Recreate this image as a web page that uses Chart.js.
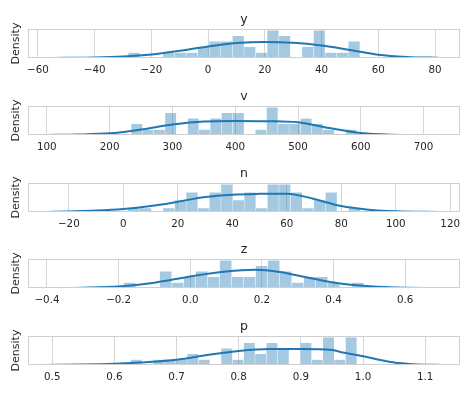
<!DOCTYPE html>
<html>
<head>
<meta charset="utf-8">
<script src="https://cdn.jsdelivr.net/npm/chart.js@4.4.1/dist/chart.umd.min.js"></script>
<style>
  html, body { margin: 0; padding: 0; background: #fff; }
  #wrap { position: relative; width: 474px; height: 395px; }
  .panel { position: absolute; left: 0; width: 474px; height: 77px; }
</style>
</head>
<body>
<div id="wrap">
  <div class="panel" style="top:0px"><canvas id="c_y" width="474" height="77"></canvas></div>
  <div class="panel" style="top:77px"><canvas id="c_v" width="474" height="77"></canvas></div>
  <div class="panel" style="top:154px"><canvas id="c_n" width="474" height="77"></canvas></div>
  <div class="panel" style="top:230px"><canvas id="c_z" width="474" height="77"></canvas></div>
  <div class="panel" style="top:307px"><canvas id="c_p" width="474" height="77"></canvas></div>
</div>
<script>
/* ================================
   Data
================================ */
// y
const yBinStart = -28.2, yBinWidth = 4.085;
const yCounts = [1, 0, 0, 1, 1, 1, 2, 3, 3, 4, 2, 1, 5, 4, 0, 2, 5, 1, 1, 3];
const yKdeX = [-57, -50, -40, -30, -20, -10, 0, 10, 20, 30, 40, 50, 60, 70, 82];
const yKdeY = [0.02, 0.03, 0.08, 0.25, 0.62, 1.3, 2.1, 2.7, 2.9, 2.75, 2.25, 1.45, 0.6, 0.2, 0.02];
const yTicks = [-60, -40, -20, 0, 20, 40, 60, 80];

// v
const vBinStart = 234.3, vBinWidth = 17.97;
const vCounts = [2, 1, 1, 4, 0, 3, 1, 3, 4, 4, 0, 1, 5, 2, 2, 3, 2, 1, 0, 1];
const vKdeX = [100, 150, 200, 250, 300, 350, 400, 450, 500, 550, 600, 650, 700, 726];
const vKdeY = [0.01, 0.08, 0.3, 1.0, 1.9, 2.45, 2.55, 2.5, 2.3, 1.25, 0.35, 0.06, 0.01, 0.0];
const vTicks = [100, 200, 300, 400, 500, 600, 700];

// n
const nBinStart = 1.76, nBinWidth = 4.26;
const nCounts = [1, 1, 0, 1, 3, 5, 1, 5, 7, 3, 5, 1, 7, 7, 5, 1, 3, 5, 0, 1];
const nKdeX = [-28, -20, -10, 0, 10, 20, 30, 40, 50, 60, 70, 80, 90, 100, 116];
const nKdeY = [0.03, 0.15, 0.35, 0.75, 1.5, 2.6, 3.8, 4.4, 4.6, 4.65, 3.3, 1.5, 0.6, 0.17, 0.02];
const nTicks = [-20, 0, 20, 40, 60, 80, 100, 120];

// z
const zBinStart = -0.186, zBinWidth = 0.0335;
const zCounts = [1, 0, 0, 3, 1, 2, 3, 2, 5, 2, 2, 4, 5, 3, 1, 2, 2, 1, 0, 1];
const zKdeX = [-0.4, -0.3, -0.2, -0.1, 0, 0.1, 0.18, 0.25, 0.3, 0.4, 0.5, 0.6, 0.7];
const zKdeY = [0.01, 0.06, 0.25, 0.95, 2.1, 3.0, 3.3, 2.9, 2.25, 1.0, 0.3, 0.05, 0.01];
const zTicks = [-0.4, -0.2, 0.0, 0.2, 0.4, 0.6];

// p
const pBinStart = 0.626, pBinWidth = 0.0182;
const pCounts = [1, 0, 1, 1, 1, 2, 1, 0, 3, 1, 4, 2, 4, 3, 0, 4, 1, 5, 1, 5];
const pKdeX = [0.49, 0.55, 0.6, 0.65, 0.7, 0.75, 0.8, 0.85, 0.9, 0.95, 0.97, 1.0, 1.03, 1.05, 1.08, 1.1, 1.125];
const pKdeY = [0.01, 0.08, 0.22, 0.5, 0.95, 1.8, 2.55, 2.9, 2.9, 2.7, 2.2, 1.6, 0.85, 0.45, 0.15, 0.06, 0.01];
const pTicks = [0.5, 0.6, 0.7, 0.8, 0.9, 1.0, 1.1];

/* ================================
   Style
================================ */
const FONT = "'DejaVu Sans', sans-serif";
const TEXT = "#262626";
const LINE = "#1f77b4";
const BAR = "rgba(31,119,180,0.4)";
const EDGE = "rgba(255,255,255,0.6)";
const GRID = "#d6d6d6";
const SPINE = "#cfcfcf";

// axes frame on all four sides
const framePlugin = {
  id: "frame",
  afterDatasetsDraw(chart) {
    const { ctx, chartArea: a } = chart;
    ctx.save();
    ctx.strokeStyle = SPINE;
    ctx.lineWidth = 1;
    ctx.strokeRect(Math.round(a.left) + 0.5, Math.round(a.top) + 0.5,
      Math.round(a.right - a.left) - 1, Math.round(a.bottom - a.top) - 1);
    ctx.restore();
  }
};

function fmtTick(v, decimals) {
  return v.toFixed(decimals).replace("-", "\u2212");
}

/* ================================
   Panel
================================ */
function makePanel(id, name, binStart, binWidth, counts, kdeX, kdeY, ticks, xMin, xMax, decimals) {
  const bars = counts.map((c, i) => ({ x: binStart + binWidth * (i + 0.5), y: c }));
  const kde = kdeX.map((x, i) => ({ x, y: kdeY[i] }));
  const yTop = Math.max(...counts) * 1.05;

  new Chart(document.getElementById(id), {
    type: "bar",
    data: {
      datasets: [
        {
          type: "line",
          data: kde,
          borderColor: LINE,
          borderWidth: 2,
          pointRadius: 0,
          cubicInterpolationMode: "monotone",
          fill: false,
          order: 0
        },
        {
          type: "bar",
          data: bars,
          backgroundColor: BAR,
          borderColor: EDGE,
          borderWidth: { left: 0.5, right: 0.5, top: 0.5, bottom: 0 },
          borderSkipped: "start",
          barPercentage: 1,
          categoryPercentage: 1,
          order: 1
        }
      ]
    },
    options: {
      responsive: false,
      devicePixelRatio: 1,
      animation: false,
      events: [],
      layout: { padding: { top: 11.8, left: 0, right: 14, bottom: 0 } },
      plugins: {
        legend: { display: false },
        tooltip: { enabled: false },
        title: {
          display: true,
          text: name,
          fullSize: false,
          color: TEXT,
          font: { family: FONT, size: 12.5, weight: "normal" },
          padding: { top: 0, bottom: 2.2 }
        }
      },
      scales: {
        x: {
          type: "linear",
          min: xMin,
          max: xMax,
          offset: false,
          afterBuildTicks: s => { s.ticks = ticks.map(v => ({ value: v })); },
          afterFit: s => { s.height = 19; },
          grid: { color: GRID, lineWidth: 1, drawTicks: false, offset: false },
          border: { display: false },
          ticks: {
            color: TEXT,
            font: { family: FONT, size: 10.3 },
            padding: 6,
            maxRotation: 0,
            autoSkip: false,
            callback: v => fmtTick(v, decimals)
          }
        },
        y: {
          min: 0,
          max: yTop,
          grid: { display: false },
          border: { display: false },
          ticks: { display: false },
          afterFit: s => { s.width = 28; },
          title: {
            display: true,
            text: "Density",
            color: TEXT,
            font: { family: FONT, size: 11 },
            padding: { top: 9.5, bottom: 0 }
          }
        }
      }
    },
    plugins: [framePlugin]
  });
}

/* ================================
   Init
================================ */
makePanel("c_y", "y", yBinStart, yBinWidth, yCounts, yKdeX, yKdeY, yTicks, -63.5, 88.8, 0);
makePanel("c_v", "v", vBinStart, vBinWidth, vCounts, vKdeX, vKdeY, vTicks, 70, 758, 0);
makePanel("c_n", "n", nBinStart, nBinWidth, nCounts, nKdeX, nKdeY, nTicks, -35, 123.6, 0);
makePanel("c_z", "z", zBinStart, zBinWidth, zCounts, zKdeX, zKdeY, zTicks, -0.453, 0.753, 1);
makePanel("c_p", "p", pBinStart, pBinWidth, pCounts, pKdeX, pKdeY, pTicks, 0.461, 1.156, 1);
</script>
</body>
</html>
